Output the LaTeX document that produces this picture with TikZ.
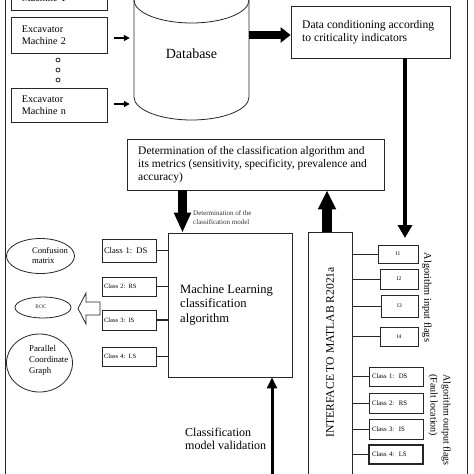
\documentclass[tikz,border=0pt]{standalone}
\usepackage{fontspec}
\setmainfont{Liberation Serif}
\usetikzlibrary{arrows.meta,shapes.geometric}
\newcommand\myfs[2]{\fontsize{#1}{#2}\selectfont}
\begin{document}
\begin{tikzpicture}[x=1pt,y=-1pt,
  line/.style={draw=black!85,line width=0.8pt},
  box/.style={line,rectangle,inner sep=0pt},
  conn/.style={draw=black!85,line width=0.8pt},
  oval/.style={line,ellipse,inner sep=0pt},
  txt/.style={inner sep=0pt,align=left},
  tiny/.style={inner sep=0pt,text=black!80},
  smallarrow/.style={draw=black,line width=2pt,-{Triangle[width=6pt,length=6pt]}},
  bigarrow/.style={draw=black,line width=#1},
]
\useasboundingbox (0,0) rectangle (474,474);
\clip (0,0) rectangle (474,474);
\fill[white] (0,0) rectangle (474,474);

% outer frame
\draw[line] (5,-5) -- (5,480);
\draw[line] (467,-5) -- (467,480);

% excavator machines
\node[box,minimum width=96pt,minimum height=36pt,text width=76pt,inner xsep=10pt,align=left,font=\myfs{10.2}{12}] (m1) at (59.85,-8) {Excavator\\Machine 1};
\node[box,minimum width=96pt,minimum height=36pt,text width=76pt,inner xsep=10pt,align=left,font=\myfs{10.2}{12}] (m2) at (59.85,35) {Excavator\\Machine 2};
\node[box,minimum width=96pt,minimum height=34pt,text width=76pt,inner xsep=10pt,align=left,font=\myfs{10.2}{12}] (mn) at (59.85,105) {Excavator\\Machine n};
\draw[line] (58,60) circle[radius=2pt];
\draw[line] (58,70) circle[radius=2pt];
\draw[line] (58,80) circle[radius=2pt];

% database cylinder
\draw[line] (134,-30) -- (134,97)
  .. controls (134,109.7) and (159.74,120) .. (191.5,120)
  .. controls (223.26,120) and (249,109.7) .. (249,97) -- (249,-30);
\draw[line] (134,0) .. controls (134,12.7) and (159.74,23) .. (191.5,23)
  .. controls (223.26,23) and (249,12.7) .. (249,0);
\node[inner sep=0pt,minimum width=115pt,font=\myfs{14}{16}] (db) at (191.5,54) {Database};

\draw[smallarrow,shorten <=6pt,shorten >=4pt] (m2.east |- 0,38) -- (db.west |- 0,38);
\draw[smallarrow,shorten <=6pt,shorten >=4pt] (mn.east |- 0,104) -- (db.west |- 0,104);

% data conditioning
\node[box,minimum width=159pt,minimum height=52pt] (dc) at (370.5,32) {};
\node[txt,anchor=west,font=\myfs{11.6}{13}] (dctxt) at (302,32.5) {Data conditioning according\\to criticality indicators};
\draw[bigarrow=8pt,-{Triangle[width=15pt,length=10pt]}] (db.east |- 0,35) -- (dc.west |- 0,35);

% determination box
\node[box,minimum width=257pt,minimum height=51pt] (det) at (255.5,164.5) {};
\node[txt,anchor=west,font=\myfs{11.5}{13}] (dettxt) at (138,164.5) {Determination of the classification algorithm and\\its metrics (sensitivity, specificity, prevalence and\\accuracy)};

% machine learning box
\node[box,minimum width=124pt,minimum height=144pt] (ml) at (230,305) {};
\node[txt,anchor=west,font=\myfs{12.6}{14.5}] (mltxt) at (180,304.5) {Machine Learning\\classification\\algorithm};

% interface box
\node[box,minimum width=44pt,minimum height=268pt] (iface) at (330,366) {};
\node[inner sep=0pt,rotate=90,font=\myfs{11.6}{13}] (ifacetxt) at (330,352.5) {INTERFACE TO MATLAB R2021a};

% arrows between middle blocks
\draw[bigarrow=9pt,-{Triangle[width=16pt,length=20pt]}] (det.south -| 182.5,0) -- (ml.north -| 182.5,0);
\node[tiny,anchor=west,align=left,font=\myfs{7}{8.5}] (dlab) at (193,217.5) {Determination of the\\classification model};
\draw[bigarrow=10pt,-{Triangle[width=17pt,length=19pt]}] (iface.north -| 327,0) -- (det.south -| 327,0);
\draw[bigarrow=3.5pt,-{Triangle[width=14pt,length=13pt]},shorten >=7pt] (dc.south -| 405,0) -- (405,245);

% validation arrow
\coordinate (valstart) at (272,480);
\draw[bigarrow=3pt,-{Triangle[width=10pt,length=11pt]}] (valstart) -- (ml.south -| valstart);
\node[txt,anchor=west,font=\myfs{12}{13}] (vlab) at (185,438.5) {Classification\\model validation};

% input flag boxes
\node[box,minimum width=40pt,minimum height=18pt,font=\myfs{5.5}{6}] (i1) at (398,254) {I1};
\node[box,minimum width=38pt,minimum height=20pt,font=\myfs{5.5}{6}] (i2) at (399,279) {I2};
\node[box,minimum width=37pt,minimum height=22pt,font=\myfs{5.5}{6}] (i3) at (399.5,306) {I3};
\node[box,minimum width=38pt,minimum height=19pt,font=\myfs{5.5}{6}] (i4) at (399,336.5) {I4};
\foreach \n in {i1,i2,i3,i4} \draw[conn] (\n.west -| iface.east) -- (\n.west);
\node[inner sep=0pt,rotate=-90,font=\myfs{10.3}{12}] (inflags) at (427,297.5) {Algorithm input flags};

% output flag boxes
\node[box,minimum width=54pt,minimum height=19pt,text width=48pt,inner xsep=3pt,align=left,font=\myfs{6.8}{8}] (rc1) at (396,376.5) {Class 1:\, DS};
\node[box,minimum width=54pt,minimum height=20pt,text width=48pt,inner xsep=3pt,align=left,font=\myfs{6.8}{8}] (rc2) at (396,403) {Class 2:\, RS};
\node[box,minimum width=54pt,minimum height=20pt,text width=48pt,inner xsep=3pt,align=left,font=\myfs{6.8}{8}] (rc3) at (396,429) {Class 3:\, IS};
\node[box,minimum width=54pt,minimum height=19pt,text width=48pt,inner xsep=3pt,align=left,font=\myfs{6.8}{8},line width=1.1pt] (rc4) at (396,454.5) {Class 4:\, LS};
\foreach \n in {rc1,rc2,rc3,rc4} \draw[conn] (\n.west -| iface.east) -- (\n.west);
\node[inner sep=0pt,rotate=-90,anchor=west,align=left,font=\myfs{10}{13}] (outflags) at (439.5,374) {Algorithm output flags\\(Fault location)};

% left class boxes
\node[box,minimum width=54pt,minimum height=23pt,text width=50pt,inner xsep=2pt,align=left,font=\myfs{8.6}{10}] (lc1) at (129,250.5) {Class 1: DS};
\node[box,minimum width=54pt,minimum height=19pt,text width=50pt,inner xsep=2pt,align=left,font=\myfs{6.5}{8}] (lc2) at (129,286.5) {Class 2: RS};
\node[box,minimum width=54pt,minimum height=20pt,text width=50pt,inner xsep=2pt,align=left,font=\myfs{6.5}{8}] (lc3) at (129,320) {Class 3: IS};
\node[box,minimum width=54pt,minimum height=19pt,text width=50pt,inner xsep=2pt,align=left,font=\myfs{6.5}{8}] (lc4) at (129,356.5) {Class 4: LS};
\draw[conn] (lc1.east) -- (lc1.east -| ml.west);
\draw[conn] (lc2.east) -- (lc2.east -| ml.west);
\draw[conn,line width=1.8pt] (lc3.east) -- (lc3.east -| ml.west);
\draw[conn] (lc4.east) -- (lc4.east -| ml.west);

% hollow arrow
\draw[line] (100,302) -- (86,302) -- (86,293) -- (78,308.5) -- (86,324) -- (86,315) -- (100,315) -- cycle;

% ellipses
\node[oval,minimum width=68pt,minimum height=35pt] (conf) at (40.5,256) {};
\node[txt,font=\myfs{8.6}{9.5}] (conftxt) at (50,255.5) {Confusion\\matrix};
\node[oval,minimum width=56pt,minimum height=21pt] (roc) at (43,307.5) {};
\node[tiny,font=\myfs{5.5}{6}] (roctxt) at (41,306.5) {ROC};
\node[oval,minimum width=66pt,minimum height=58pt] (pcg) at (39.5,363) {};
\node[txt,anchor=west,font=\myfs{8.8}{11}] (pcgtxt) at (29,360) {Parallel\\Coordinate\\Graph};
\end{tikzpicture}
\end{document}
